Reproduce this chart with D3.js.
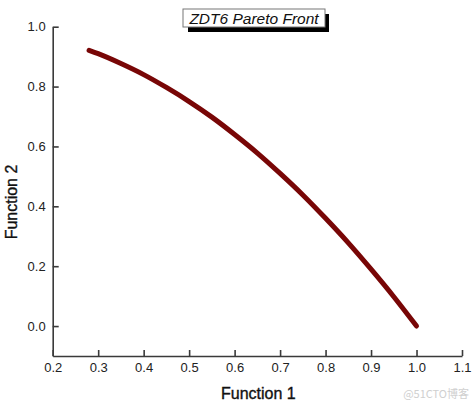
<!DOCTYPE html>
<html lang="en">
<head>
    <meta charset="UTF-8">
    <script src="https://d3js.org/d3.v7.min.js"></script>
    <title>ZDT6 Pareto Front</title>
    <style>
        body { margin: 0; background: #fff; }
        svg { font-family: "Liberation Sans", Arial, sans-serif; }
        .axis path, .axis line { stroke: #3a3a3a; stroke-width: 1.6; }
        .axis text { font-size: 13px; fill: #222; }
        .label { font-size: 16px; fill: #111; stroke: #111; stroke-width: 0.35; }
    </style>
</head>
<body>
    <div id="chart"></div>
    <script>
        // values
        var f1 = [0.28, 0.30, 0.35, 0.40, 0.45, 0.50, 0.55, 0.60, 0.65, 0.70, 0.75, 0.80, 0.85, 0.90, 0.95, 1.00];
        var f2 = [0.921, 0.91, 0.877, 0.84, 0.797, 0.75, 0.698, 0.64, 0.578, 0.51, 0.438, 0.36, 0.278, 0.19, 0.098, 0.0];
        var xTicks = [0.2, 0.3, 0.4, 0.5, 0.6, 0.7, 0.8, 0.9, 1.0, 1.1];
        var yTicks = [0.0, 0.2, 0.4, 0.6, 0.8, 1.0];
        var title = 'ZDT6 Pareto Front';

        var width = 474;
        var height = 405;
        var margin = {top: 26.7, right: 12, bottom: 49, left: 52.7};

        var svg = d3.select('#chart')
                    .append('svg')
                        .attr('width', width)
                        .attr('height', height);

        var x = d3.scaleLinear()
                  .domain([0.2, 1.1])
                  .range([margin.left, width - margin.right]);
        var y = d3.scaleLinear()
                  .domain([-0.1, 1.0])
                  .range([height - margin.bottom, margin.top]);

        // axes, ticks pointing inwards
        svg.append('g')
            .attr('class', 'axis')
            .attr('transform', 'translate(0,' + y(-0.1) + ')')
            .call(d3.axisBottom(x).tickValues(xTicks).tickFormat(d3.format('.1f'))
                    .tickSizeInner(-6).tickSizeOuter(0).tickPadding(7));

        svg.append('g')
            .attr('class', 'axis')
            .attr('transform', 'translate(' + x(0.2) + ',0)')
            .call(d3.axisLeft(y).tickValues(yTicks).tickFormat(d3.format('.1f'))
                    .tickSizeInner(-6).tickSizeOuter(0).tickPadding(7));

        // the front
        var pts = f1.map(function(d, i) { return [d, f2[i]]; });
        var line = d3.line()
                     .x(function(d) { return x(d[0]); })
                     .y(function(d) { return y(d[1]); })
                     .curve(d3.curveMonotoneX);

        svg.append('path')
            .datum(pts)
            .attr('d', line)
            .attr('fill', 'none')
            .attr('stroke', '#780606')
            .attr('stroke-width', 5)
            .attr('stroke-linecap', 'round');

        // axis titles
        svg.append('text')
            .attr('class', 'label')
            .attr('x', (x(0.2) + x(1.1)) / 2 + 1)
            .attr('y', 399)
            .attr('text-anchor', 'middle')
            .text('Function 1');

        svg.append('text')
            .attr('class', 'label')
            .attr('transform', 'translate(17,202) rotate(-90)')
            .attr('text-anchor', 'middle')
            .text('Function 2');

        // title box with drop shadow
        var tb = svg.append('g');
        tb.append('rect')
            .attr('x', 188).attr('y', 14)
            .attr('width', 141).attr('height', 18)
            .attr('fill', '#000');
        tb.append('rect')
            .attr('x', 183).attr('y', 9)
            .attr('width', 142).attr('height', 18)
            .attr('fill', '#fff')
            .attr('stroke', '#777')
            .attr('stroke-width', 1);
        tb.append('text')
            .attr('x', 254)
            .attr('y', 23.5)
            .attr('text-anchor', 'middle')
            .style('font-size', '15.5px')
            .style('font-style', 'italic')
            .style('fill', '#111')
            .text(title);

        // watermark
        svg.append('text')
            .attr('x', 469)
            .attr('y', 398)
            .attr('text-anchor', 'end')
            .style('font-family', '"Noto Sans CJK SC", sans-serif')
            .style('font-size', '11px')
            .style('fill', '#d0d0d0')
            .text('@51CTO博客');
    </script>
</body>
</html>
